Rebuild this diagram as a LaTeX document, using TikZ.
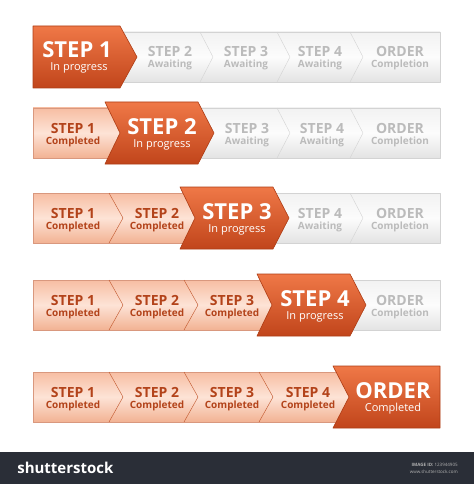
\documentclass[tikz,border=0pt]{standalone}
\usepackage{fontspec}
\setmainfont{Open Sans}
\usetikzlibrary{shadings}

\definecolor{actTop}{HTML}{EF7847}
\definecolor{actBot}{HTML}{C1451B}
\definecolor{actLine}{HTML}{AE3D15}
\definecolor{doneTop}{HTML}{F7BEA3}
\definecolor{doneMid}{HTML}{FDE3D6}
\definecolor{doneBot}{HTML}{F2B293}
\definecolor{doneLine}{HTML}{BF5328}
\definecolor{doneText}{HTML}{B3431A}
\definecolor{waitTop}{HTML}{F2F2F2}
\definecolor{waitMid}{HTML}{FCFCFC}
\definecolor{waitBot}{HTML}{E3E3E3}
\definecolor{waitLine}{HTML}{D3D3D3}
\definecolor{waitText}{HTML}{BBBBBB}
\definecolor{footer}{HTML}{2A2E37}

\begin{document}
\begin{tikzpicture}[x=1pt,y=-1pt,line join=round,semithick]
  \tikzstyle{waitbar}=[draw=waitLine,top color=waitTop,bottom color=waitBot,middle color=waitMid]
  \tikzstyle{donebar}=[draw=doneLine!60,top color=doneTop,bottom color=doneBot,middle color=doneMid]
  \tikzstyle{active}=[draw=actLine,top color=actTop,bottom color=actBot]
  \tikzstyle{waitsep}=[draw=waitLine,thin]
  \tikzstyle{donesep}=[draw=doneLine,thin]
  \tikzstyle{lbl}=[inner sep=0pt,anchor=base,font=\bfseries]
  \tikzstyle{bigstep}=[lbl,text=white,font=\fontsize{22}{22}\selectfont\bfseries]
  \tikzstyle{bigsub}=[lbl,text=white,font=\fontsize{11}{11}\selectfont]
  \tikzstyle{donestep}=[lbl,text=doneText,font=\fontsize{14}{14}\selectfont\bfseries]
  \tikzstyle{donesub}=[lbl,text=doneText,font=\fontsize{10}{10}\selectfont\bfseries]
  \tikzstyle{waitstep}=[lbl,text=waitText,font=\fontsize{14}{14}\selectfont\bfseries]
  \tikzstyle{waitsub}=[lbl,text=waitText,font=\fontsize{10}{10}\selectfont\bfseries]

  \useasboundingbox[fill=white] (0,0) rectangle (474,484);

  % row 1 : step 1 in progress
  \begin{scope}[shift={(0,57)}]
    \path[waitbar] (33,-25) rectangle (440,25);
    \foreach \x in {200,277,350} \draw[waitsep] (\x,-25) -- (\x+13,0) -- (\x,25);
    \path[active] (33,-31) -- (120,-31) -- (137,0) -- (120,31) -- (33,31) -- cycle;
    \node[bigstep] (r1s1) at (77,1) {STEP 1};
    \node[bigsub] (r1t1) at (79,14) {In progress};
    \foreach \x/\n in {170/2,246/3,320/4} {
      \node[waitstep] (r1s\n) at (\x,0) {STEP \n};
      \node[waitsub] (r1t\n) at (\x,11) {Awaiting};
    }
    \node[waitstep] (r1s5) at (400,0) {ORDER};
    \node[waitsub] (r1t5) at (400,11) {Completion};
  \end{scope}

  % row 2 : step 2 in progress
  \begin{scope}[shift={(0,133)}]
    \path[waitbar] (33,-25) rectangle (440,25);
    \path[donebar] (33,-25) rectangle (125,25);
    \foreach \x in {277,350} \draw[waitsep] (\x,-25) -- (\x+13,0) -- (\x,25);
    \path[active] (105,-31) -- (198,-31) -- (214,0) -- (198,31) -- (105,31) -- (120,0) -- cycle;
    \node[donestep] (r2s1) at (73,0) {STEP 1};
    \node[donesub] (r2t1) at (73,11.5) {Completed};
    \node[bigstep] (r2s2) at (162,1) {STEP 2};
    \node[bigsub] (r2t2) at (162,14) {In progress};
    \foreach \x/\n in {247/3,322/4} {
      \node[waitstep] (r2s\n) at (\x,0) {STEP \n};
      \node[waitsub] (r2t\n) at (\x,11) {Awaiting};
    }
    \node[waitstep] (r2s5) at (400,0) {ORDER};
    \node[waitsub] (r2t5) at (400,11) {Completion};
  \end{scope}

  % row 3 : step 3 in progress
  \begin{scope}[shift={(0,218)}]
    \path[waitbar] (33,-25) rectangle (440,25);
    \path[donebar] (33,-25) rectangle (200,25);
    \draw[donesep] (109,-25) -- (123,0) -- (109,25);
    \draw[waitsep] (350,-25) -- (363,0) -- (350,25);
    \path[active] (180,-31) -- (273,-31) -- (289,0) -- (273,31) -- (180,31) -- (195,0) -- cycle;
    \foreach \x/\n in {73/1,157/2} {
      \node[donestep] (r3s\n) at (\x,0) {STEP \n};
      \node[donesub] (r3t\n) at (\x,11.5) {Completed};
    }
    \node[bigstep] (r3s3) at (237,1) {STEP 3};
    \node[bigsub] (r3t3) at (237,14) {In progress};
    \node[waitstep] (r3s4) at (320,0) {STEP 4};
    \node[waitsub] (r3t4) at (320,11) {Awaiting};
    \node[waitstep] (r3s5) at (400,0) {ORDER};
    \node[waitsub] (r3t5) at (400,11) {Completion};
  \end{scope}

  % row 4 : step 4 in progress
  \begin{scope}[shift={(0,305)}]
    \path[waitbar] (33,-25) rectangle (440,25);
    \path[donebar] (33,-25) rectangle (275,25);
    \foreach \x in {109,184} \draw[donesep] (\x,-25) -- (\x+14,0) -- (\x,25);
    \path[active] (257,-31) -- (350,-31) -- (366,0) -- (350,31) -- (257,31) -- (272,0) -- cycle;
    \foreach \x/\n in {73/1,157/2,232/3} {
      \node[donestep] (r4s\n) at (\x,0) {STEP \n};
      \node[donesub] (r4t\n) at (\x,11.5) {Completed};
    }
    \node[bigstep] (r4s4) at (315,1) {STEP 4};
    \node[bigsub] (r4t4) at (315,14) {In progress};
    \node[waitstep] (r4s5) at (400,0) {ORDER};
    \node[waitsub] (r4t5) at (400,11) {Completion};
  \end{scope}

  % row 5 : order completed
  \begin{scope}[shift={(0,397)}]
    \path[donebar] (33,-25) rectangle (352,25);
    \foreach \x in {109,184,259} \draw[donesep] (\x,-25) -- (\x+14,0) -- (\x,25);
    \path[active] (333,-31) -- (440,-31) -- (440,31) -- (333,31) -- (349,0) -- cycle;
    \foreach \x/\n in {73/1,157/2,232/3,308/4} {
      \node[donestep] (r5s\n) at (\x,0) {STEP \n};
      \node[donesub] (r5t\n) at (\x,11.5) {Completed};
    }
    \node[bigstep] (r5s5) at (393,1) {ORDER};
    \node[bigsub] (r5t5) at (393,14) {Completed};
  \end{scope}

  % footer
  \fill[footer] (0,452) rectangle (474,484);
  \node[lbl,anchor=base west,text=white,font=\fontsize{15}{15}\selectfont\bfseries] (logo) at (17,473) {shutterstock};
  \node[lbl,anchor=base east,text=gray!60,font=\fontsize{4.5}{4.5}\selectfont] (imgid) at (458,466) {\textbf{IMAGE ID:} 123944905};
  \node[lbl,anchor=base east,text=gray!60,font=\fontsize{4.5}{4.5}\selectfont] (www) at (458,473) {www.shutterstock.com};
\end{tikzpicture}
\end{document}
